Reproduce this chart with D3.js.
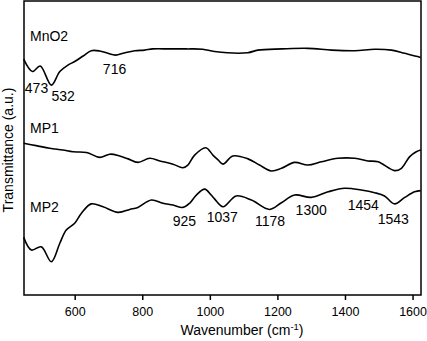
<!DOCTYPE html>
<html>
  <head>
    <meta charset="utf-8">
    <title>FTIR spectra</title>
    <script src="https://cdn.jsdelivr.net/npm/d3@7/dist/d3.min.js"></script>
    <style>
      body { margin: 0; background: #fff; }
      svg text { font-family: "Liberation Sans", Arial, sans-serif; fill: #000; }
    </style>
  </head>
  <body>
    <div id="chart"></div>
    <script>
    // wavenumber (cm-1) / transmittance (a.u., offset per sample)
    var mno2Wn = [449, 475, 498, 531, 556, 580, 600, 625, 649, 674, 698, 721, 748, 778, 807, 831, 881, 931, 979, 1014, 1112, 1142, 1213, 1290, 1361, 1429, 1488, 1538, 1577, 1615, 1624];
    var mno2T  = [80.2, 76.0, 77.9, 71.4, 76.0, 78.2, 79.4, 81.3, 83.1, 83.0, 82.2, 81.6, 82.4, 83.1, 83.3, 83.7, 83.7, 83.7, 83.6, 82.8, 82.4, 83.3, 83.7, 83.9, 83.3, 83.1, 83.6, 83.3, 82.2, 81.1, 80.8];

    var mp1Wn = [449, 486, 526, 565, 595, 635, 674, 704, 733, 758, 787, 822, 852, 891, 920, 935, 955, 988, 1009, 1025, 1039, 1068, 1113, 1147, 1182, 1212, 1251, 1290, 1330, 1379, 1429, 1468, 1498, 1547, 1567, 1591, 1611, 1624];
    var mp1T  = [51.6, 50.8, 49.9, 49.3, 48.7, 48.5, 46.8, 47.9, 47.3, 46.3, 45.1, 46.5, 45.6, 44.5, 43.3, 44.2, 47.6, 50.1, 47.6, 45.9, 44.5, 47.3, 46.3, 44.2, 42.2, 43.1, 45.1, 44.2, 45.3, 46.5, 46.5, 45.6, 45.3, 42.3, 43.1, 47.0, 48.7, 49.3];

    var mp2Wn = [449, 472, 501, 531, 556, 575, 600, 620, 649, 684, 728, 763, 787, 827, 861, 891, 920, 940, 960, 985, 1004, 1014, 1039, 1078, 1123, 1177, 1212, 1251, 1300, 1350, 1399, 1448, 1488, 1517, 1547, 1577, 1606, 1624];
    var mp2T  = [19.6, 15.3, 16.4, 11.3, 17.6, 22.1, 24.4, 27.8, 31.0, 30.0, 28.1, 29.1, 29.8, 32.3, 31.2, 30.6, 29.8, 31.2, 34.0, 36.0, 34.0, 32.7, 30.0, 33.7, 32.3, 29.1, 31.4, 34.0, 33.2, 35.1, 36.3, 35.7, 34.8, 33.7, 31.0, 33.2, 35.1, 35.5];

    var xTicks = [600, 800, 1000, 1200, 1400, 1600];

    // text annotations
    var sampleNames = ["MnO2", "MP1", "MP2"];
    var sampleNameT = [86.5, 55.2, 28.2];
    var peakLabels = ["473", "532", "716", "925", "1037", "1178", "1300", "1454", "1543"];
    var peakWn     = [487, 566, 718, 925, 1037, 1178, 1300, 1454, 1543];
    var peakT      = [68.8, 66.0, 75.2, 23.4, 24.7, 23.4, 27.2, 28.9, 24.1];

    (function(){
        var W = 427, H = 341;
        var margin = {top: 1, right: 6, bottom: 46, left: 24};
        var innerW = W - margin.left - margin.right;
        var innerH = H - margin.top - margin.bottom;

        var svg = d3.select("#chart").append("svg")
            .attr("width", W)
            .attr("height", H);

        var g = svg.append("g")
            .attr("transform", "translate(" + margin.left + "," + margin.top + ")");

        var x = d3.scaleLinear().domain([450, 1625]).range([0, innerW]);
        var y = d3.scaleLinear().domain([0, 100]).range([innerH, 0]);

        var line = d3.line()
            .x(function(d){ return x(d[0]); })
            .y(function(d){ return y(d[1]); })
            .curve(d3.curveCatmullRom.alpha(0.5));

        var series = [[mno2Wn, mno2T], [mp1Wn, mp1T], [mp2Wn, mp2T]];
        series.forEach(function(s){
            var pts = s[0].map(function(w, i){ return [w, s[1][i]]; });
            g.append("path")
             .datum(pts)
             .attr("d", line)
             .attr("fill", "none")
             .attr("stroke", "#000")
             .attr("stroke-width", 1.6)
             .attr("stroke-linejoin", "round");
        });

        // x axis, ticks outward
        var xAxis = g.append("g")
            .attr("transform", "translate(0," + innerH + ")")
            .call(d3.axisBottom(x).tickValues(xTicks).tickFormat(d3.format("d")).tickSize(5).tickPadding(7));
        xAxis.select(".domain").remove();
        xAxis.selectAll("line").attr("stroke", "#000").attr("stroke-width", 1.5);
        xAxis.selectAll("text")
             .style("font-family", "'Liberation Sans', Arial, sans-serif")
             .style("font-size", "12.5px")
             .attr("fill", "#000");

        // frame
        g.append("rect")
         .attr("x", 0).attr("y", 0)
         .attr("width", innerW).attr("height", innerH)
         .attr("fill", "none")
         .attr("stroke", "#000")
         .attr("stroke-width", 1.5);

        // sample names
        sampleNames.forEach(function(n, i){
            g.append("text")
             .attr("x", 6)
             .attr("y", y(sampleNameT[i]))
             .style("font-size", "14px")
             .text(n);
        });

        // peak positions
        peakLabels.forEach(function(t, i){
            g.append("text")
             .attr("x", x(peakWn[i]))
             .attr("y", y(peakT[i]))
             .attr("text-anchor", "middle")
             .style("font-size", "14px")
             .text(t);
        });

        // axis titles
        var xt = svg.append("text")
            .attr("x", 242)
            .attr("y", 335)
            .attr("text-anchor", "middle")
            .style("font-size", "14px");
        xt.append("tspan").text("Wavenumber (cm");
        xt.append("tspan").attr("dy", -5).style("font-size", "9.5px").text("-1");
        xt.append("tspan").attr("dy", 5).text(")");

        svg.append("text")
           .attr("transform", "translate(13,150) rotate(-90)")
           .attr("text-anchor", "middle")
           .style("font-size", "14px")
           .text("Transmittance (a.u.)");
    })();
    </script>
  </body>
</html>
